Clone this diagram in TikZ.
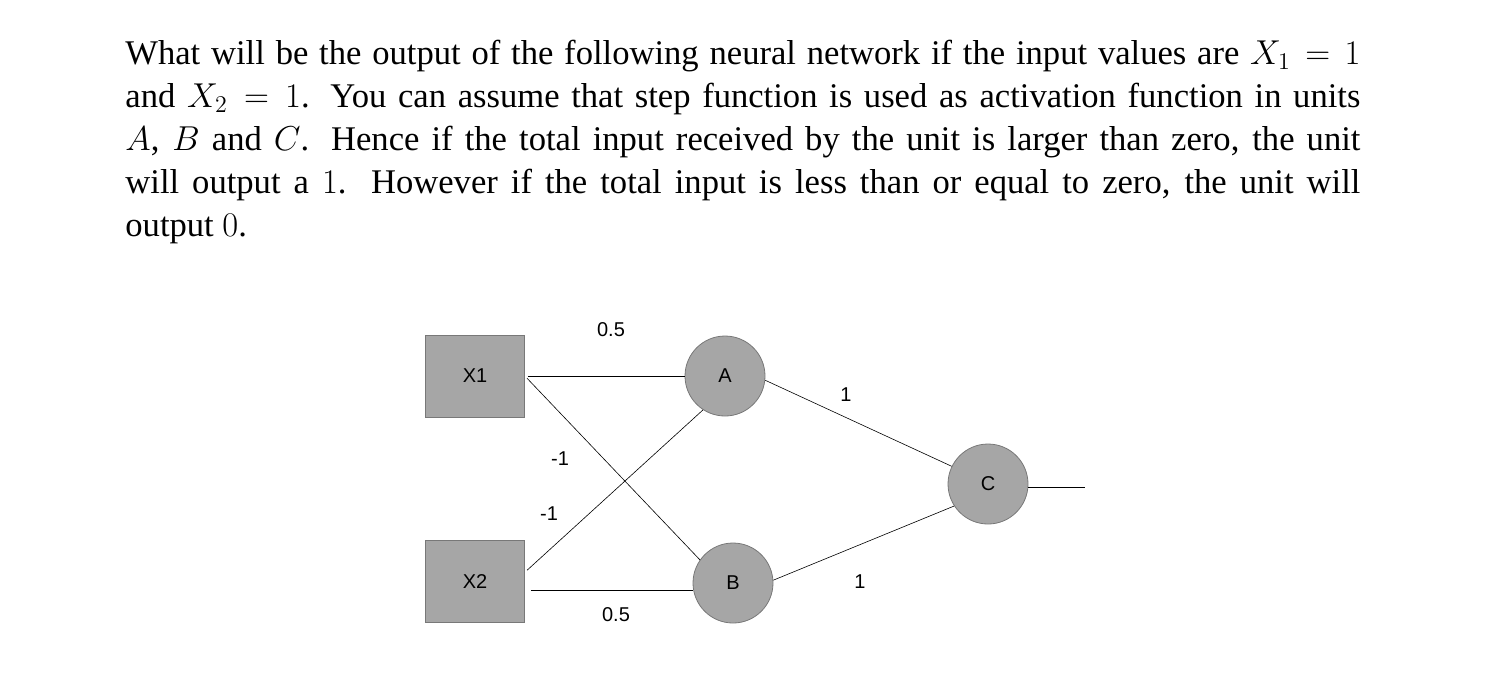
\documentclass[tikz,border=0pt]{standalone}
\usepackage{fontspec}
\setmainfont{Liberation Serif}
\newfontfamily\diagfont{Liberation Sans}
\usepackage{amsmath}
\usetikzlibrary{positioning}
\definecolor{unitfill}{RGB}{166,166,166}
\definecolor{unitdraw}{RGB}{120,120,120}

\begin{document}
\begin{tikzpicture}[x=0.5pt,y=-0.5pt,
	inp/.style={draw=unitdraw,fill=unitfill,minimum width=49.5pt,minimum height=41pt,font=\diagfont\fontsize{10}{12}\selectfont},
	unit/.style={circle,draw=unitdraw,fill=unitfill,minimum size=40pt,inner sep=0pt,font=\diagfont\fontsize{10}{12}\selectfont},
	wt/.style={font=\diagfont\fontsize{10}{12}\selectfont},
	conn/.style={draw=black,line width=0.3pt}]
	\useasboundingbox (0,0) rectangle (1487,698);
	% question text
	\node[anchor=north west,inner sep=0pt,text width=617.5pt,align=justify,font=\fontsize{17.3}{21.5}\selectfont] (q) at (125,40)
	{What will be the output of the following neural network if the input values are $X_1=1$\linebreak
	and $X_2=1$. You can assume that step function is used as activation function in units\linebreak
	$A$, $B$ and $C$. Hence if the total input received by the unit is larger than zero, the unit\linebreak
	will output a $1$. However if the total input is less than or equal to zero, the unit will\linebreak
	output $0$.};
	% units
	\node[inp] (X1) at (475,376) {X1};
	\node[inp] (X2) at (475,581) {X2};
	\node[unit] (A) at (725,376) {A};
	\node[unit] (B) at (733,583) {B};
	\node[unit] (C) at (988,484) {C};
	\coordinate (out) at (1085,487);
	% weights
	\draw[conn,shorten <=1.5pt] (X1.east) -- (A.west);
	\draw[conn,shorten <=1.5pt] (X1.east) -- (B.145);
	\draw[conn,shorten <=1.5pt] (X2.10) -- (A.237);
	\draw[conn,shorten <=3pt] (X2.east |- B.190) -- (B.190);
	\draw[conn] (A.-6) -- (C.154);
	\draw[conn] (B.4) -- (C.213);
	\draw[conn] (C.east |- out) -- (out);
	% labels
	\node[wt] (wa1) at (611,330) {0.5};
	\node[wt] (wb1) at (560,459) {-1};
	\node[wt] (wa2) at (549,514) {-1};
	\node[wt] (wb2) at (616,615) {0.5};
	\node[wt] (wc1) at (846,395) {1};
	\node[wt] (wc2) at (860,582) {1};
\end{tikzpicture}
\end{document}
